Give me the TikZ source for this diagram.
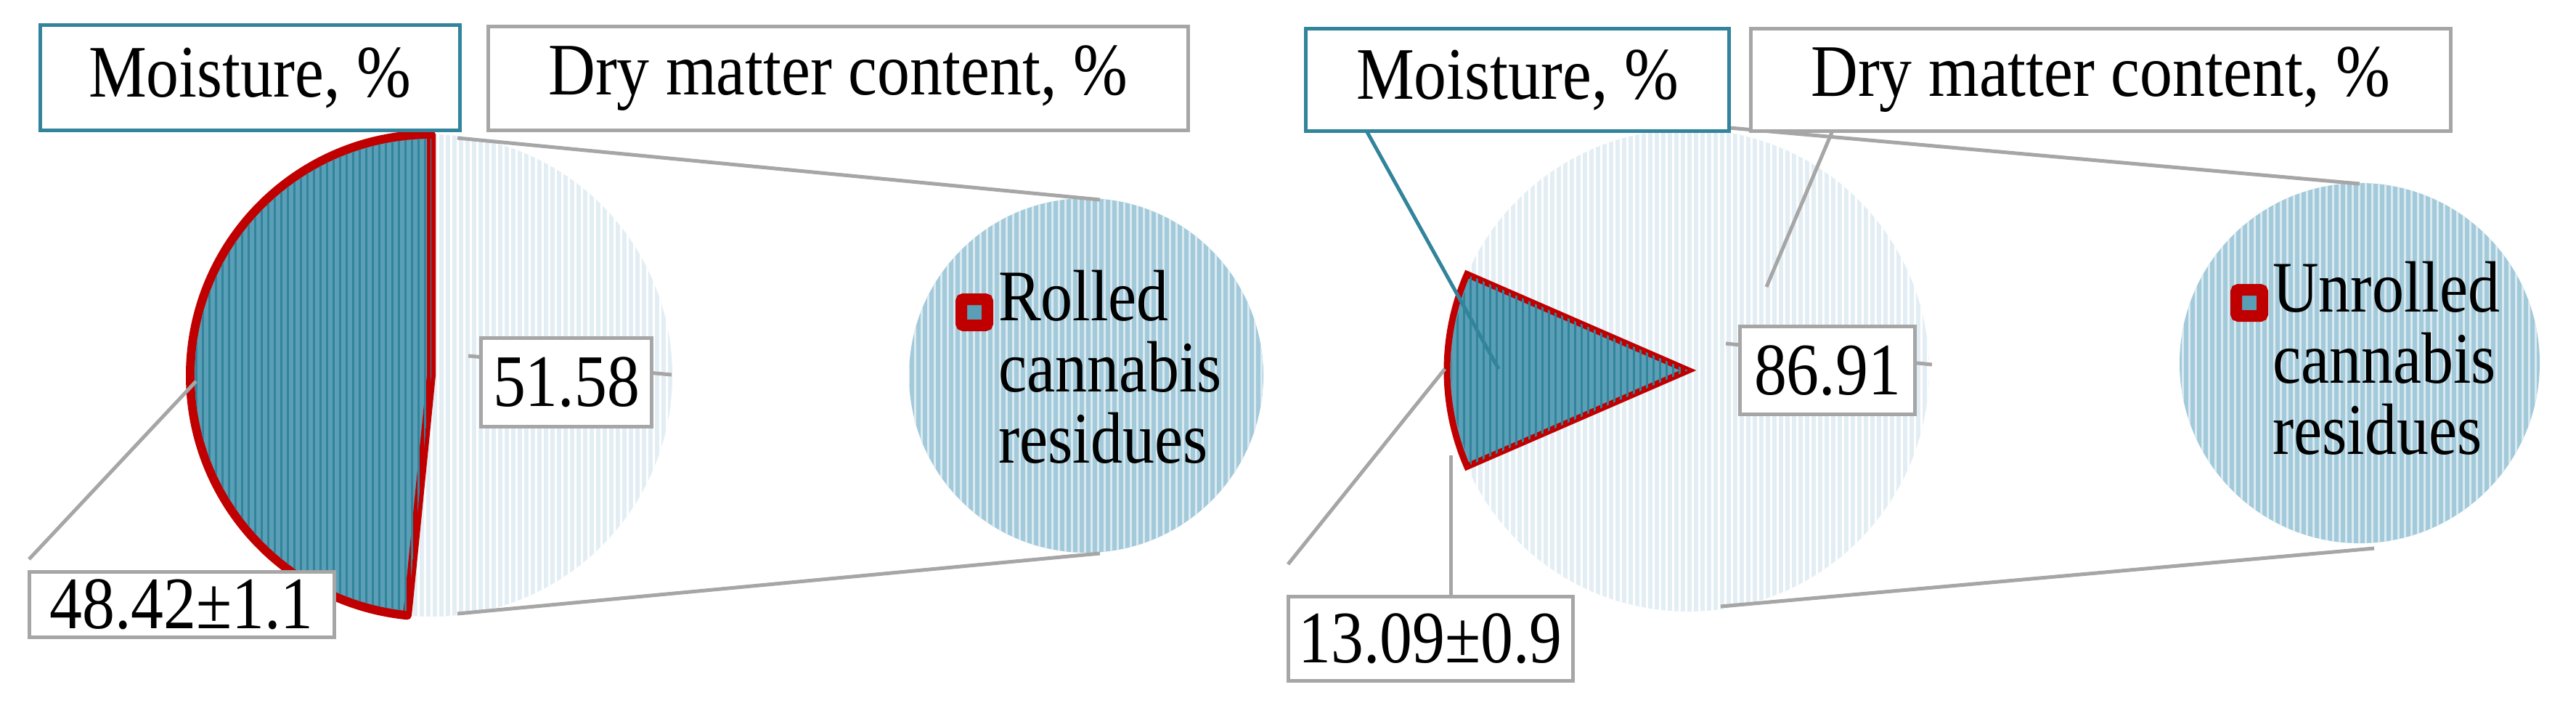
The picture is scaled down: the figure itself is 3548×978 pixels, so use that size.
\documentclass[tikz,border=0pt]{standalone}
\usepackage{fontspec}
\setmainfont{Liberation Serif}[FakeStretch=0.88]
\usetikzlibrary{patterns.meta}
\definecolor{teal1}{HTML}{31849B}
\definecolor{grayl}{HTML}{A6A6A6}
\definecolor{redl}{HTML}{C00000}
\definecolor{darkfill}{HTML}{5A9FB6}
\definecolor{lightfill}{HTML}{E3EEF4}
\definecolor{midfill}{HTML}{A3CADA}
\tikzset{
  lab/.style={draw=grayl,line width=5pt,fill=white,font=\fontsize{102}{110}\selectfont,inner sep=0pt,text=black},
  tlab/.style={lab,draw=teal1},
  conn/.style={draw=grayl,line width=5pt},
  stripes/.style={pattern={Lines[angle=90,distance=9pt,line width=3pt]},pattern color=#1},
  legtxt/.style={font=\fontsize{100}{98}\selectfont,align=left,inner sep=0pt,anchor=north west},
  legkey/.style={draw=redl,fill=darkfill,line width=16pt,minimum size=36,inner sep=0pt,rounded corners=3pt}
}
\begin{document}
\begin{tikzpicture}[x=1pt,y=-1pt]
\useasboundingbox (0,0) rectangle (3548,978);
% ---------- left panel ----------
\coordinate (LC) at (594,517);
\coordinate (SC) at (1496,517);
\fill[lightfill] (LC) circle[radius=332];
\fill[stripes=white] (LC) circle[radius=332];
\fill[midfill] (SC) circle[radius=244];
\fill[stripes=white!60!midfill] (SC) circle[radius=244];
\coordinate (LT) at (630,190); \coordinate (LB) at (630,845);
\coordinate (ST) at (1515,275); \coordinate (SB) at (1515,762);
\draw[conn] (LT) -- (ST);
\draw[conn] (LB) -- (SB);
\filldraw[fill=darkfill,draw=redl,line width=12pt,line join=round] (LC) -- ++(-90:332) arc[start angle=-90,end angle=-264.3,radius=332] -- cycle;
\fill[stripes=teal1] (LC) -- ++(-90:326) arc[start angle=-90,end angle=-264.3,radius=326] -- cycle;
\node[tlab,minimum width=578,minimum height=145] (m1) at (344,107) {Moisture, \%};
\node[lab,minimum width=964,minimum height=143] (d1) at (1154,108) {Dry matter content, \%};
\coordinate (p1a) at (645,490); \coordinate (p1b) at (925,516);
\draw[conn] (p1a) -- (p1b);
\node[lab,minimum width=235,minimum height=122] (v1) at (780,526) {51.58};
\coordinate (q1a) at (270,525); \coordinate (q1b) at (40,770);
\draw[conn] (q1a) -- (q1b);
\node[lab,minimum width=420,minimum height=90] (e1) at (250,832) {48.42±1.1};
\node[legkey] (k1) at (1342,430) {};
\node[legtxt] (t1) at (1375,372) {Rolled\\cannabis\\residues};
% ---------- right panel ----------
\coordinate (RC) at (2325,510);
\coordinate (RS) at (3250,500);
\fill[lightfill] (RC) circle[radius=332];
\fill[stripes=white] (RC) circle[radius=332];
\fill[midfill] (RS) circle[radius=248];
\fill[stripes=white!60!midfill] (RS) circle[radius=248];
\coordinate (RT) at (2382,176); \coordinate (RB) at (2370,835);
\coordinate (RST) at (3250,253); \coordinate (RSB) at (3270,755);
\draw[conn] (RT) -- (RST);
\draw[conn] (RB) -- (RSB);
\filldraw[fill=darkfill,draw=redl,line width=9pt,line join=miter] (RC) -- ++(-156.5:332) arc[start angle=-156.5,end angle=-203.5,radius=332] -- cycle;
\fill[stripes=teal1] (RC) -- ++(-156.5:326) arc[start angle=-156.5,end angle=-203.5,radius=326] -- cycle;
\node[tlab,minimum width=583,minimum height=141] (m2) at (2090,110) {Moisture, \%};
\node[lab,minimum width=964,minimum height=141] (d2) at (2893,110) {Dry matter content, \%};
\coordinate (mm2) at (2064,508);
\draw[draw=teal1,line width=5pt] (1882,180) -- (mm2);
\coordinate (dd2) at (2433,395);
\draw[conn] (2524,180) -- (dd2);
\coordinate (p2a) at (2377,473); \coordinate (p2b) at (2661,502);
\draw[conn] (p2a) -- (p2b);
\node[lab,minimum width=241,minimum height=121] (v2) at (2517,510) {86.91};
\coordinate (q2a) at (1990,508); \coordinate (q2b) at (1774,777);
\draw[conn] (q2a) -- (q2b);
\coordinate (q2c) at (1998,627); \coordinate (q2d) at (1998,821);
\draw[conn] (q2c) -- (q2d);
\node[lab,minimum width=392,minimum height=116] (e2) at (1970,879) {13.09±0.9};
\node[legkey] (k2) at (3098,417) {};
\node[legtxt] (t2) at (3130,360) {Unrolled\\cannabis\\residues};
\end{tikzpicture}
\end{document}
